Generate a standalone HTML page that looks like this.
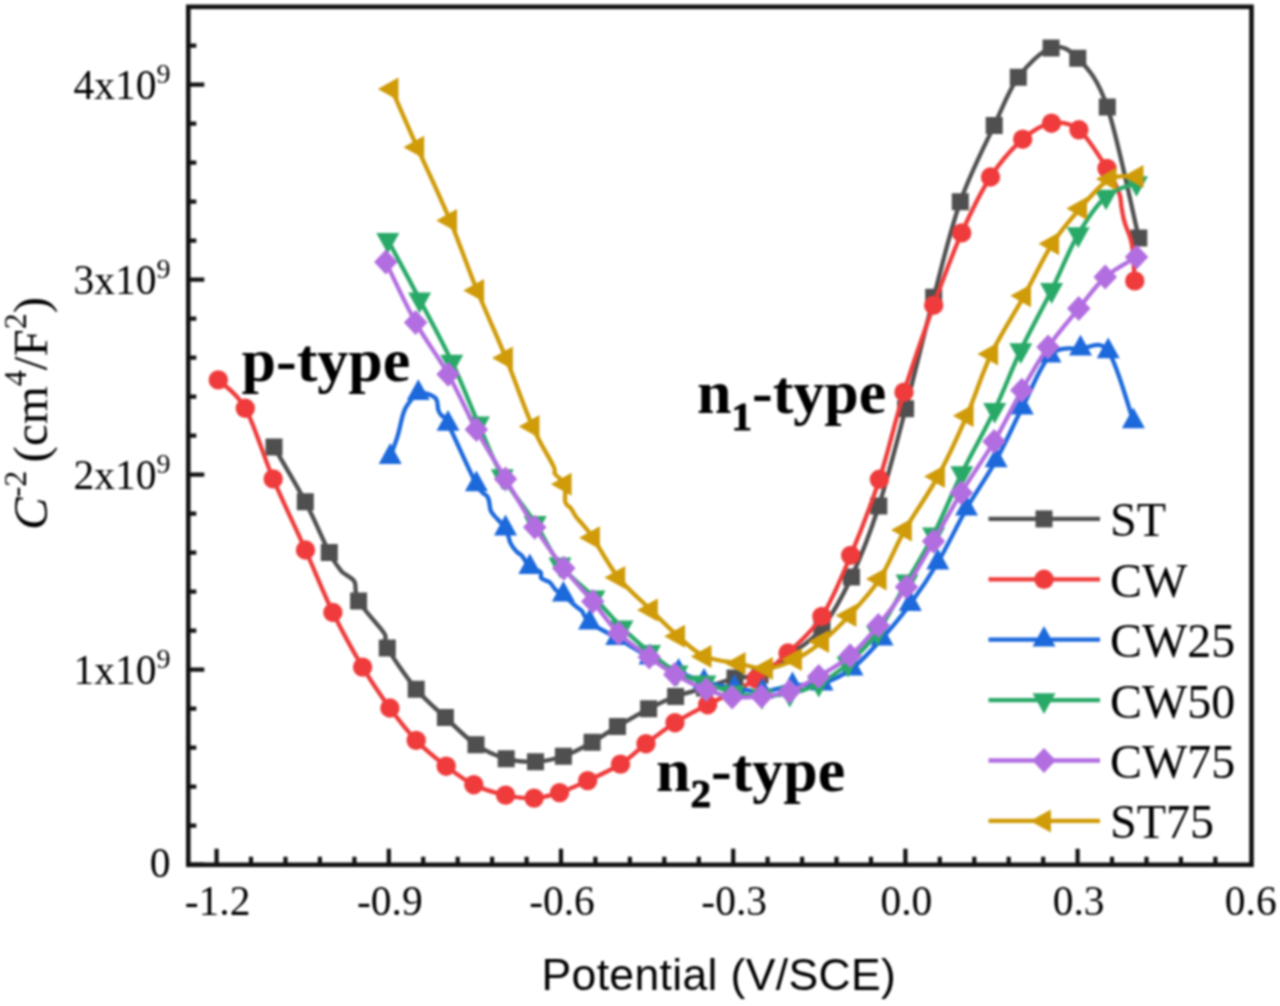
<!DOCTYPE html>
<html><head><meta charset="utf-8"><title>Mott-Schottky plot</title>
<style>
html,body{margin:0;padding:0;background:#fff;}
svg{display:block;}
.tl{font-family:"Liberation Serif",serif;font-size:41.5px;fill:#000;}
.sup{font-family:"Liberation Serif",serif;font-size:28px;fill:#000;}
.xt{font-family:"Liberation Sans",sans-serif;font-size:44.5px;letter-spacing:0.35px;fill:#000;}
.yt{font-family:"Liberation Serif",serif;font-size:49px;fill:#000;}
.ysup{font-size:32px;}
.an{font-family:"Liberation Serif",serif;font-weight:bold;font-size:62px;fill:#000;}
.ansub{font-size:41px;font-weight:bold;stroke:#000;stroke-width:0.9px;}
.lg{font-family:"Liberation Serif",serif;font-size:48px;fill:#000;}
</style></head>
<body>
<svg width="1280" height="1006" viewBox="0 0 1280 1006">
<defs><filter id="bl" x="0" y="0" width="1" height="1" color-interpolation-filters="sRGB"><feGaussianBlur stdDeviation="0.95"/></filter></defs>
<rect width="1280" height="1006" fill="#fff"/>
<g filter="url(#bl)"><rect width="1280" height="1006" fill="#fff"/>
<path d="M274,447 C279.2,456.1 296.1,484.1 305.3,501.7 C314.5,519.3 323.5,541.2 329.3,552.6 C335.1,564 337.9,566.3 340.3,569.8 C342.8,573.3 342.2,572 344,573.4 C345.8,574.8 349.2,576.6 351,578.2 C352.8,579.8 353.7,579.2 355,583 C356.3,586.8 354,593 358.6,601 C363.2,609 378,625 382.5,631 C387,637 384.7,634.2 385.5,637 C386.3,639.8 382.2,639.3 387.3,648 C392.4,656.7 406.5,677.6 416.2,689.2 C425.9,700.8 435.4,708.2 445.4,717.5 C455.4,726.8 465.9,737.9 476,744.8 C486.1,751.7 496.3,755.9 506.2,758.7 C516.1,761.5 526,762.1 535.5,761.7 C545,761.3 554,759.5 563.4,756.3 C572.8,753.1 583.1,747.3 592.1,742.3 C601.1,737.3 608.1,732 617.5,726.4 C626.9,720.8 638.9,713.8 648.6,708.8 C658.3,703.8 666.3,700 675.6,696.5 C684.9,693 694.6,691.1 704.5,688 C714.4,684.9 725.8,680.2 735,678 C744.2,675.8 750.8,678.8 760,675 C769.2,671.2 779.7,662.8 790,655 C800.3,647.2 811.8,641 822,628 C832.2,615 842,597.3 851.5,577 C861,556.7 869.8,534.1 878.8,506.1 C887.8,478.1 896.5,443.5 905.6,408.7 C914.8,373.9 924.6,331.8 933.7,297.3 C942.8,262.8 950.2,230.3 960.3,201.7 C970.4,173 984.5,146.1 994.2,125.4 C1003.9,104.7 1008.8,90.2 1018.3,77.3 C1027.8,64.4 1041.2,51.2 1051.1,48 C1061,44.8 1068.4,48.5 1077.8,58.3 C1087.2,68.1 1097.1,77.1 1107.3,107 C1117.5,136.9 1133.5,216.1 1138.8,237.9" fill="none" stroke="#4f4f4f" stroke-width="4.3" stroke-linejoin="round" stroke-linecap="round"/>
<path d="M265.5,438.5 h17 v17 h-17 Z M296.8,493.2 h17 v17 h-17 Z M320.8,544.1 h17 v17 h-17 Z M350.1,592.5 h17 v17 h-17 Z M378.8,639.5 h17 v17 h-17 Z M407.7,680.7 h17 v17 h-17 Z M436.9,709 h17 v17 h-17 Z M467.5,736.3 h17 v17 h-17 Z M497.7,750.2 h17 v17 h-17 Z M527,753.2 h17 v17 h-17 Z M554.9,747.8 h17 v17 h-17 Z M583.6,733.8 h17 v17 h-17 Z M609,717.9 h17 v17 h-17 Z M640.1,700.3 h17 v17 h-17 Z M667.1,688 h17 v17 h-17 Z M696,679.5 h17 v17 h-17 Z M726.5,669.5 h17 v17 h-17 Z M751.5,666.5 h17 v17 h-17 Z M781.5,646.5 h17 v17 h-17 Z M813.5,619.5 h17 v17 h-17 Z M843,568.5 h17 v17 h-17 Z M870.3,497.6 h17 v17 h-17 Z M897.1,400.2 h17 v17 h-17 Z M925.2,288.8 h17 v17 h-17 Z M951.8,193.2 h17 v17 h-17 Z M985.7,116.9 h17 v17 h-17 Z M1009.8,68.8 h17 v17 h-17 Z M1042.6,39.5 h17 v17 h-17 Z M1069.3,49.8 h17 v17 h-17 Z M1098.8,98.5 h17 v17 h-17 Z M1130.3,229.4 h17 v17 h-17 Z" fill="#4f4f4f"/>
<path d="M218.3,379.9 C222.8,384.6 236.2,391.8 245.3,408.3 C254.5,424.8 263.2,455.3 273.2,478.9 C283.2,502.5 295.6,527.7 305.5,550 C315.4,572.3 323.4,593 332.9,612.5 C342.4,632 353.1,651.2 362.6,667.1 C372.1,683 381,695.8 389.9,708 C398.8,720.2 406.8,730.7 416.2,740.4 C425.6,750.1 436.6,758.8 446.2,766.2 C455.8,773.6 463.9,779.9 473.8,784.7 C483.7,789.5 495.6,792.9 505.6,795.1 C515.6,797.3 525.1,798.5 534.1,798.1 C543.1,797.7 550.7,795.5 559.6,792.6 C568.5,789.7 577.6,785.4 587.7,780.6 C597.9,775.9 610.8,770.2 620.5,764.1 C630.2,758 636.9,750.6 646,743.7 C655.1,736.8 664.7,729.2 675,722.7 C685.3,716.2 697.9,709.8 707.6,704.7 C717.3,699.6 724.9,696.3 733,692 C741.1,687.7 746.8,685.5 756,679 C765.2,672.5 777,663.4 788,653 C799,642.6 811.4,632.7 821.9,616.4 C832.4,600.1 841.1,578.2 850.7,555.4 C860.3,532.5 870.5,506.5 879.4,479.3 C888.3,452.1 895,421.2 904,392.2 C913,363.2 924.1,331.8 933.7,305.2 C943.3,278.6 952.2,254.3 961.7,232.9 C971.2,211.5 980.3,192.6 990.5,177 C1000.7,161.4 1012.5,148.2 1022.7,139.2 C1032.9,130.2 1042.1,124.8 1051.5,123.2 C1060.9,121.6 1069.7,122.3 1078.9,129.8 C1088.2,137.3 1100.3,158 1107,168.4 C1113.7,178.8 1116.6,186.1 1119,192.5 C1121.4,198.9 1120.7,202.4 1121.5,207 C1122.3,211.6 1123.1,216.3 1124,220 C1124.9,223.7 1126,226.2 1127,229 C1128,231.8 1129.1,233.8 1130,237 C1130.9,240.2 1131.6,240.7 1132.4,248 C1133.2,255.3 1134.4,275.4 1134.8,280.9" fill="none" stroke="#ef3b3b" stroke-width="4.3" stroke-linejoin="round" stroke-linecap="round"/>
<path d="M208.6,379.9 a9.7,9.7 0 1,0 19.4,0 a9.7,9.7 0 1,0 -19.4,0 Z M235.6,408.3 a9.7,9.7 0 1,0 19.4,0 a9.7,9.7 0 1,0 -19.4,0 Z M263.5,478.9 a9.7,9.7 0 1,0 19.4,0 a9.7,9.7 0 1,0 -19.4,0 Z M295.8,550 a9.7,9.7 0 1,0 19.4,0 a9.7,9.7 0 1,0 -19.4,0 Z M323.2,612.5 a9.7,9.7 0 1,0 19.4,0 a9.7,9.7 0 1,0 -19.4,0 Z M352.9,667.1 a9.7,9.7 0 1,0 19.4,0 a9.7,9.7 0 1,0 -19.4,0 Z M380.2,708 a9.7,9.7 0 1,0 19.4,0 a9.7,9.7 0 1,0 -19.4,0 Z M406.5,740.4 a9.7,9.7 0 1,0 19.4,0 a9.7,9.7 0 1,0 -19.4,0 Z M436.5,766.2 a9.7,9.7 0 1,0 19.4,0 a9.7,9.7 0 1,0 -19.4,0 Z M464.1,784.7 a9.7,9.7 0 1,0 19.4,0 a9.7,9.7 0 1,0 -19.4,0 Z M495.9,795.1 a9.7,9.7 0 1,0 19.4,0 a9.7,9.7 0 1,0 -19.4,0 Z M524.4,798.1 a9.7,9.7 0 1,0 19.4,0 a9.7,9.7 0 1,0 -19.4,0 Z M549.9,792.6 a9.7,9.7 0 1,0 19.4,0 a9.7,9.7 0 1,0 -19.4,0 Z M578,780.6 a9.7,9.7 0 1,0 19.4,0 a9.7,9.7 0 1,0 -19.4,0 Z M610.8,764.1 a9.7,9.7 0 1,0 19.4,0 a9.7,9.7 0 1,0 -19.4,0 Z M636.3,743.7 a9.7,9.7 0 1,0 19.4,0 a9.7,9.7 0 1,0 -19.4,0 Z M665.3,722.7 a9.7,9.7 0 1,0 19.4,0 a9.7,9.7 0 1,0 -19.4,0 Z M697.9,704.7 a9.7,9.7 0 1,0 19.4,0 a9.7,9.7 0 1,0 -19.4,0 Z M723.3,692 a9.7,9.7 0 1,0 19.4,0 a9.7,9.7 0 1,0 -19.4,0 Z M746.3,679 a9.7,9.7 0 1,0 19.4,0 a9.7,9.7 0 1,0 -19.4,0 Z M778.3,653 a9.7,9.7 0 1,0 19.4,0 a9.7,9.7 0 1,0 -19.4,0 Z M812.2,616.4 a9.7,9.7 0 1,0 19.4,0 a9.7,9.7 0 1,0 -19.4,0 Z M841,555.4 a9.7,9.7 0 1,0 19.4,0 a9.7,9.7 0 1,0 -19.4,0 Z M869.7,479.3 a9.7,9.7 0 1,0 19.4,0 a9.7,9.7 0 1,0 -19.4,0 Z M894.3,392.2 a9.7,9.7 0 1,0 19.4,0 a9.7,9.7 0 1,0 -19.4,0 Z M924,305.2 a9.7,9.7 0 1,0 19.4,0 a9.7,9.7 0 1,0 -19.4,0 Z M952,232.9 a9.7,9.7 0 1,0 19.4,0 a9.7,9.7 0 1,0 -19.4,0 Z M980.8,177 a9.7,9.7 0 1,0 19.4,0 a9.7,9.7 0 1,0 -19.4,0 Z M1013,139.2 a9.7,9.7 0 1,0 19.4,0 a9.7,9.7 0 1,0 -19.4,0 Z M1041.8,123.2 a9.7,9.7 0 1,0 19.4,0 a9.7,9.7 0 1,0 -19.4,0 Z M1069.2,129.8 a9.7,9.7 0 1,0 19.4,0 a9.7,9.7 0 1,0 -19.4,0 Z M1097.3,168.4 a9.7,9.7 0 1,0 19.4,0 a9.7,9.7 0 1,0 -19.4,0 Z M1125.1,280.9 a9.7,9.7 0 1,0 19.4,0 a9.7,9.7 0 1,0 -19.4,0 Z" fill="#ef3b3b"/>
<path d="M390.2,456.9 C391.4,453.5 395.4,443.3 397.5,436.4 C399.6,429.5 401.1,420.8 402.7,415.6 C404.3,410.5 404.4,409.2 407,405.5 C409.6,401.8 414.5,394.9 418.3,393.1 C422.1,391.4 427,393.7 430,394.8 C433,395.9 435.1,397 436.5,399.5 C437.9,402 437.5,407.3 438.3,410 C439.1,412.7 439.9,413.2 441.5,415.5 C443.1,417.8 442.2,412.4 448,423.8 C453.8,435.3 469.8,472.1 476.4,484.3 C483,496.6 485.3,492.8 487.7,497.1 C490.1,501.4 489.4,506.9 490.5,510 C491.6,513.1 492,512.9 494.5,516 C497,519.1 502.8,523.9 505.5,528.5 C508.2,533 508.7,539.4 510.5,543.2 C512.3,547 514.5,549.3 516.5,551.5 C518.5,553.7 520.2,553.7 522.4,556.3 C524.6,558.9 526.8,564.6 529.8,567.2 C532.8,569.7 538.4,570 540.3,571.8 C542.2,573.6 540.2,576.4 541,577.8 C541.8,579.2 543.5,579.4 545,580.2 C546.5,581 548.2,580.9 550,582.5 C551.8,584.1 553.6,588 555.8,590 C558,592 560,592 563.4,594.8 C566.8,597.5 572.9,603.7 576,606.4 C579.1,609.1 579.7,608.5 582,611.2 C584.3,613.9 583.8,618 589.6,622.5 C595.4,626.9 606.7,632.1 616.8,638 C626.9,643.8 639.7,651.8 650,657.5 C660.3,663.1 669.6,667.9 678.6,672 C687.6,676 694.7,679 704,681.7 C713.3,684.3 724.8,686.3 734.5,688 C744.2,689.6 752.8,691.9 762.5,691.5 C772.2,691 782.6,686.8 792.5,685.5 C802.4,684.1 812.1,686.3 822,683.5 C831.9,680.6 842,676 852,668.5 C862,661 872.3,649.2 882,638.5 C891.7,627.7 901,616.6 910.3,604 C919.6,591.3 928.4,578.3 937.8,562.5 C947.2,546.6 956.8,525.8 966.5,508.8 C976.2,491.7 986.8,477.1 996.1,460.2 C1005.4,443.4 1013.3,425.1 1022.3,407.6 C1031.3,390.2 1040.3,365.3 1050,355.4 C1059.7,345.6 1070.8,349.2 1080.5,348.6 C1090.2,347.9 1099.4,339.2 1108.2,351.3 C1117,363.5 1129.2,409.7 1133.4,421.3" fill="none" stroke="#1c69dc" stroke-width="4.3" stroke-linejoin="round" stroke-linecap="round"/>
<path d="M390.2,443.1 L401.7,463.9 L378.7,463.9 Z M418.3,379.3 L429.8,400.1 L406.8,400.1 Z M448,410 L459.5,430.8 L436.5,430.8 Z M476.4,470.5 L487.9,491.2 L464.9,491.2 Z M505.5,514.6 L517,535.4 L494,535.4 Z M529.8,553.4 L541.3,574.1 L518.3,574.1 Z M563.4,580.9 L574.9,601.6 L551.9,601.6 Z M589.6,608.6 L601.1,629.4 L578.1,629.4 Z M616.8,624.1 L628.3,644.9 L605.3,644.9 Z M650,643.6 L661.5,664.4 L638.5,664.4 Z M678.6,658.1 L690.1,678.9 L667.1,678.9 Z M704,667.9 L715.5,688.6 L692.5,688.6 Z M734.5,674.1 L746,694.9 L723,694.9 Z M762.5,677.6 L774,698.4 L751,698.4 Z M792.5,671.6 L804,692.4 L781,692.4 Z M822,669.6 L833.5,690.4 L810.5,690.4 Z M852,654.6 L863.5,675.4 L840.5,675.4 Z M882,624.6 L893.5,645.4 L870.5,645.4 Z M910.3,590.1 L921.8,610.9 L898.8,610.9 Z M937.8,548.6 L949.3,569.4 L926.3,569.4 Z M966.5,494.9 L978,515.6 L955,515.6 Z M996.1,446.4 L1007.6,467.2 L984.6,467.2 Z M1022.3,393.8 L1033.8,414.6 L1010.8,414.6 Z M1050,341.6 L1061.5,362.4 L1038.5,362.4 Z M1080.5,334.8 L1092,355.5 L1069,355.5 Z M1108.2,337.5 L1119.7,358.2 L1096.7,358.2 Z M1133.4,407.5 L1144.9,428.2 L1121.9,428.2 Z" fill="#1c69dc"/>
<path d="M387.8,239.9 C393.1,249.8 408.9,279.1 419.6,299.4 C430.3,319.8 442,341 451.8,361.7 C461.6,382.3 470,404.5 478.4,423.6 C486.8,442.6 492.8,459.7 502.3,476.2 C511.8,492.8 525.6,508.3 535.2,523 C544.8,537.8 550.2,552.1 560,564.5 C569.8,577 583.7,587 594,597.5 C604.3,608 612.8,618.5 622,627.5 C631.2,636.6 640.3,644.5 649.5,652 C658.7,659.5 667.8,667.5 677,672.5 C686.2,677.6 695.6,679.2 705,682.5 C714.4,685.9 724,690.3 733.5,692.5 C743,694.8 752.6,695.8 762,695.9 C771.4,696.1 780.3,695.6 789.8,693.5 C799.2,691.5 809,688.8 818.7,683.8 C828.4,678.8 838.2,672.1 848,663.5 C857.8,654.9 867.7,645.9 877.5,632.2 C887.3,618.6 897.6,597.8 907,581.5 C916.4,565.3 924.5,552.6 933.6,534.5 C942.7,516.5 951.6,494 961.8,473.2 C972,452.5 984.9,430.4 994.7,409.9 C1004.5,389.3 1011.3,370.1 1020.8,350.2 C1030.3,330.2 1042,309.4 1051.6,290.1 C1061.2,270.7 1069.1,249.8 1078.2,234.2 C1087.3,218.7 1096.3,205.1 1106,196.6 C1115.7,188 1131.4,185.3 1136.5,183.1" fill="none" stroke="#29a968" stroke-width="4.3" stroke-linejoin="round" stroke-linecap="round"/>
<path d="M376.3,233 L399.3,233 L387.8,253.7 Z M408.1,292.5 L431.1,292.5 L419.6,313.2 Z M440.3,354.8 L463.3,354.8 L451.8,375.5 Z M466.9,416.6 L489.9,416.6 L478.4,437.4 Z M490.8,469.3 L513.8,469.3 L502.3,490.1 Z M523.7,516.1 L546.7,516.1 L535.2,536.9 Z M548.5,557.6 L571.5,557.6 L560,578.4 Z M582.5,590.6 L605.5,590.6 L594,611.4 Z M610.5,620.6 L633.5,620.6 L622,641.4 Z M638,645.1 L661,645.1 L649.5,665.9 Z M665.5,665.6 L688.5,665.6 L677,686.4 Z M693.5,675.6 L716.5,675.6 L705,696.4 Z M722,685.6 L745,685.6 L733.5,706.4 Z M750.5,689 L773.5,689 L762,709.8 Z M778.3,686.6 L801.3,686.6 L789.8,707.4 Z M807.2,676.9 L830.2,676.9 L818.7,697.6 Z M836.5,656.6 L859.5,656.6 L848,677.4 Z M866,625.4 L889,625.4 L877.5,646.1 Z M895.5,574.6 L918.5,574.6 L907,595.4 Z M922.1,527.6 L945.1,527.6 L933.6,548.4 Z M950.3,466.3 L973.3,466.3 L961.8,487.1 Z M983.2,402.9 L1006.2,402.9 L994.7,423.7 Z M1009.3,343.2 L1032.3,343.2 L1020.8,364 Z M1040.1,283.1 L1063.1,283.1 L1051.6,303.9 Z M1066.7,227.3 L1089.7,227.3 L1078.2,248 Z M1094.5,189.7 L1117.5,189.7 L1106,210.3 Z M1125,176.2 L1148,176.2 L1136.5,196.8 Z" fill="#29a968"/>
<path d="M385.8,262.1 C390.8,272.2 405.2,303.7 415.6,322.4 C426,341.1 438.1,356.3 448.2,374.2 C458.3,392.1 466.8,412.2 476.4,429.6 C485.9,447.1 495.8,462.6 505.5,478.9 C515.2,495.2 525,512.3 534.7,527.2 C544.4,542.1 554.1,555.9 563.8,568.3 C573.5,580.7 583.6,590.7 592.7,601.5 C601.8,612.3 609.2,624 618.6,633.3 C628,642.5 639.9,650.1 649.3,657 C658.7,663.9 665.3,669.2 674.8,674.6 C684.3,680 696.6,685.9 706.2,689.6 C715.8,693.3 723,695.9 732.2,697 C741.4,698.1 752,697.2 761.5,696.3 C771,695.4 780,694.8 789.5,691.5 C799,688.2 808.6,682.4 818.7,676.4 C828.8,670.4 840.2,664.3 850.1,655.8 C860,647.3 869,636.9 878.4,625.4 C887.8,613.9 897.3,601 906.5,587 C915.7,573 924.4,557 933.5,541.3 C942.6,525.6 951.2,509.3 961.3,492.7 C971.4,476.1 984,458.6 994.1,441.5 C1004.2,424.4 1012.9,406 1021.9,390.2 C1030.9,374.4 1038.6,360.5 1048.1,346.9 C1057.6,333.3 1069.2,320.1 1078.7,308.5 C1088.2,296.9 1095.6,285.7 1105.2,277.1 C1114.8,268.5 1131.4,260.4 1136.6,257.1" fill="none" stroke="#b26ee0" stroke-width="4.3" stroke-linejoin="round" stroke-linecap="round"/>
<path d="M385.8,249.6 L397.6,262.1 L385.8,274.6 L374.1,262.1 Z M415.6,309.9 L427.4,322.4 L415.6,334.9 L403.9,322.4 Z M448.2,361.7 L459.9,374.2 L448.2,386.7 L436.4,374.2 Z M476.4,417.1 L488.1,429.6 L476.4,442.1 L464.6,429.6 Z M505.5,466.4 L517.2,478.9 L505.5,491.4 L493.8,478.9 Z M534.7,514.7 L546.5,527.2 L534.7,539.7 L523,527.2 Z M563.8,555.8 L575.5,568.3 L563.8,580.8 L552,568.3 Z M592.7,589 L604.5,601.5 L592.7,614 L581,601.5 Z M618.6,620.8 L630.4,633.3 L618.6,645.8 L606.9,633.3 Z M649.3,644.5 L661,657 L649.3,669.5 L637.5,657 Z M674.8,662.1 L686.5,674.6 L674.8,687.1 L663,674.6 Z M706.2,677.1 L718,689.6 L706.2,702.1 L694.5,689.6 Z M732.2,684.5 L744,697 L732.2,709.5 L720.5,697 Z M761.5,683.8 L773.2,696.3 L761.5,708.8 L749.8,696.3 Z M789.5,679 L801.2,691.5 L789.5,704 L777.8,691.5 Z M818.7,663.9 L830.5,676.4 L818.7,688.9 L807,676.4 Z M850.1,643.3 L861.9,655.8 L850.1,668.3 L838.4,655.8 Z M878.4,612.9 L890.1,625.4 L878.4,637.9 L866.6,625.4 Z M906.5,574.5 L918.2,587 L906.5,599.5 L894.8,587 Z M933.5,528.8 L945.2,541.3 L933.5,553.8 L921.8,541.3 Z M961.3,480.2 L973,492.7 L961.3,505.2 L949.5,492.7 Z M994.1,429 L1005.9,441.5 L994.1,454 L982.4,441.5 Z M1021.9,377.7 L1033.7,390.2 L1021.9,402.7 L1010.1,390.2 Z M1048.1,334.4 L1059.8,346.9 L1048.1,359.4 L1036.3,346.9 Z M1078.7,296 L1090.5,308.5 L1078.7,321 L1067,308.5 Z M1105.2,264.6 L1117,277.1 L1105.2,289.6 L1093.5,277.1 Z M1136.6,244.6 L1148.3,257.1 L1136.6,269.6 L1124.8,257.1 Z" fill="#b26ee0"/>
<path d="M391.6,89.1 C395.8,98.8 407.5,125.4 417.2,147.3 C427,169.2 440.1,196.7 450.1,220.6 C460,244.5 467.8,267.6 477.1,290.5 C486.5,313.4 496.7,335.3 505.9,358 C515.2,380.7 524.7,408.7 532.6,426.6 C540.4,444.6 549.5,457.8 553.2,465.7 C556.9,473.6 553.1,470.9 555,474 C556.9,477.1 562.9,479.5 564.7,484.2 C566.4,488.9 564.2,497.9 565.3,502 C566.4,506.1 569.1,505.9 571,508.5 C572.9,511.1 574.4,514.7 576.5,517.5 C578.6,520.3 580.8,522.1 583.5,525.5 C586.2,528.9 587.1,529.1 593,537.8 C598.8,546.5 608.7,565.6 618.4,577.6 C628,589.6 640.9,600.2 650.9,610 C660.8,619.8 669.1,628.5 678.1,636.2 C687,643.9 694.5,651.9 704.6,656.4 C714.7,660.9 728.4,661.5 738.7,663.5 C748.9,665.5 756.6,669 766,668.4 C775.3,667.8 785.6,664.1 795,659.6 C804.3,655.1 813,649 822.1,641.6 C831.1,634.2 839.8,625.9 849.5,615.4 C859.1,604.9 870.5,593.1 879.8,578.9 C889,564.6 895.1,547 904.9,529.9 C914.6,512.8 927.6,495.4 938,476.4 C948.3,457.4 957.9,436.1 966.8,415.7 C975.6,395.3 981.7,374 991.2,354 C1000.8,334 1014,314.2 1024.2,295.8 C1034.3,277.4 1042.9,258.4 1052.2,243.8 C1061.6,229.2 1070.6,219.2 1080.2,208.4 C1089.7,197.6 1100.2,184.3 1109.7,179 C1119.1,173.7 1132.2,177 1136.7,176.6" fill="none" stroke="#cf9b08" stroke-width="4.3" stroke-linejoin="round" stroke-linecap="round"/>
<path d="M377.8,89.1 L398.5,77.6 L398.5,100.6 Z M403.4,147.3 L424.2,135.8 L424.2,158.8 Z M436.2,220.6 L457,209.1 L457,232.1 Z M463.3,290.5 L484.1,279 L484.1,302 Z M492.1,358 L512.9,346.5 L512.9,369.5 Z M518.8,426.6 L539.5,415.1 L539.5,438.1 Z M550.9,484.2 L571.6,472.7 L571.6,495.7 Z M579.1,537.8 L599.9,526.3 L599.9,549.3 Z M604.5,577.6 L625.2,566.1 L625.2,589.1 Z M637,610 L657.8,598.5 L657.8,621.5 Z M664.2,636.2 L685,624.7 L685,647.7 Z M690.8,656.4 L711.5,644.9 L711.5,667.9 Z M724.9,663.5 L745.6,652 L745.6,675 Z M752.1,668.4 L772.9,656.9 L772.9,679.9 Z M781.1,659.6 L801.9,648.1 L801.9,671.1 Z M808.2,641.6 L829,630.1 L829,653.1 Z M835.6,615.4 L856.4,603.9 L856.4,626.9 Z M865.9,578.9 L886.6,567.4 L886.6,590.4 Z M891,529.9 L911.8,518.4 L911.8,541.4 Z M924.1,476.4 L944.9,464.9 L944.9,487.9 Z M952.9,415.7 L973.6,404.2 L973.6,427.2 Z M977.4,354 L998.1,342.5 L998.1,365.5 Z M1010.4,295.8 L1031,284.3 L1031,307.3 Z M1038.5,243.8 L1059.1,232.3 L1059.1,255.3 Z M1066.4,208.4 L1087,196.9 L1087,219.9 Z M1095.9,179 L1116.5,167.5 L1116.5,190.5 Z M1122.9,176.6 L1143.5,165.1 L1143.5,188.1 Z" fill="#cf9b08"/>
<text x="241.5" y="381" class="an">p-type</text>
<text x="697" y="413" class="an">n<tspan class="ansub" dy="16.5">1</tspan><tspan dy="-16.5">-type</tspan></text>
<text x="656" y="791" class="an">n<tspan class="ansub" dy="16">2</tspan><tspan dy="-16">-type</tspan></text>
<path d="M988.5,518.9 H1100" stroke="#4f4f4f" stroke-width="4.3"/>
<path d="M1035.5,510.4 h17 v17 h-17 Z" fill="#4f4f4f"/>
<text x="1110" y="536.4" class="lg">ST</text>
<path d="M988.5,579.3 H1100" stroke="#ef3b3b" stroke-width="4.3"/>
<path d="M1034.3,579.3 a9.7,9.7 0 1,0 19.4,0 a9.7,9.7 0 1,0 -19.4,0 Z" fill="#ef3b3b"/>
<text x="1110" y="596.8" class="lg">CW</text>
<path d="M988.5,639.7 H1100" stroke="#1c69dc" stroke-width="4.3"/>
<path d="M1044,625.9 L1055.5,646.6 L1032.5,646.6 Z" fill="#1c69dc"/>
<text x="1110" y="657.2" class="lg">CW25</text>
<path d="M988.5,700.1 H1100" stroke="#29a968" stroke-width="4.3"/>
<path d="M1032.5,693.2 L1055.5,693.2 L1044,713.9 Z" fill="#29a968"/>
<text x="1110" y="717.6" class="lg">CW50</text>
<path d="M988.5,760.5 H1100" stroke="#b26ee0" stroke-width="4.3"/>
<path d="M1044,748 L1055.8,760.5 L1044,773 L1032.2,760.5 Z" fill="#b26ee0"/>
<text x="1110" y="778" class="lg">CW75</text>
<path d="M988.5,820.9 H1100" stroke="#cf9b08" stroke-width="4.3"/>
<path d="M1030.2,820.9 L1050.9,809.4 L1050.9,832.4 Z" fill="#cf9b08"/>
<text x="1110" y="838.4" class="lg">ST75</text>
<rect x="188.3" y="6.8" width="1063.2" height="858" fill="none" stroke="#111" stroke-width="4.6"/>
<path d="M216.6,864.8 v-16 M251,864.8 v-8 M285.5,864.8 v-8 M319.9,864.8 v-8 M354.4,864.8 v-8 M388.8,864.8 v-16 M423.2,864.8 v-8 M457.7,864.8 v-8 M492.1,864.8 v-8 M526.6,864.8 v-8 M561,864.8 v-16 M595.4,864.8 v-8 M629.9,864.8 v-8 M664.3,864.8 v-8 M698.8,864.8 v-8 M733.2,864.8 v-16 M767.6,864.8 v-8 M802.1,864.8 v-8 M836.5,864.8 v-8 M871,864.8 v-8 M905.4,864.8 v-16 M939.8,864.8 v-8 M974.3,864.8 v-8 M1008.7,864.8 v-8 M1043.2,864.8 v-8 M1077.6,864.8 v-16 M1112,864.8 v-8 M1146.5,864.8 v-8 M1180.9,864.8 v-8 M1215.4,864.8 v-8 M188.3,864.6 h16 M188.3,825.6 h8 M188.3,786.6 h8 M188.3,747.6 h8 M188.3,708.6 h8 M188.3,669.6 h16 M188.3,630.6 h8 M188.3,591.6 h8 M188.3,552.6 h8 M188.3,513.6 h8 M188.3,474.6 h16 M188.3,435.6 h8 M188.3,396.6 h8 M188.3,357.6 h8 M188.3,318.6 h8 M188.3,279.6 h16 M188.3,240.6 h8 M188.3,201.6 h8 M188.3,162.6 h8 M188.3,123.6 h8 M188.3,84.6 h16 M188.3,45.6 h8 " stroke="#111" stroke-width="4.2" fill="none"/>
<text x="217.6" y="915.3" text-anchor="middle" class="tl">-1.2</text>
<text x="389.8" y="915.3" text-anchor="middle" class="tl">-0.9</text>
<text x="562" y="915.3" text-anchor="middle" class="tl">-0.6</text>
<text x="734.2" y="915.3" text-anchor="middle" class="tl">-0.3</text>
<text x="906.4" y="915.3" text-anchor="middle" class="tl">0.0</text>
<text x="1078.6" y="915.3" text-anchor="middle" class="tl">0.3</text>
<text x="1250.8" y="915.3" text-anchor="middle" class="tl">0.6</text>
<text x="170.5" y="877.3" text-anchor="end" class="tl">0</text>
<text x="156.5" y="684.1" text-anchor="end" class="tl">1x10</text><text x="156.5" y="668.1" class="sup">9</text>
<text x="156.5" y="489.1" text-anchor="end" class="tl">2x10</text><text x="156.5" y="473.1" class="sup">9</text>
<text x="156.5" y="294.1" text-anchor="end" class="tl">3x10</text><text x="156.5" y="278.1" class="sup">9</text>
<text x="156.5" y="99.1" text-anchor="end" class="tl">4x10</text><text x="156.5" y="83.1" class="sup">9</text>
<text x="541.5" y="989.5" class="xt">Potential (V/SCE)</text>
<text transform="translate(47,530) rotate(-90)" class="yt"><tspan font-style="italic">C</tspan><tspan class="ysup" dy="-21">-2</tspan><tspan dy="21" dx="-4"> (cm</tspan><tspan class="ysup" dy="-21">4</tspan><tspan dy="21">/F</tspan><tspan class="ysup" dy="-21">2</tspan><tspan dy="21">)</tspan></text>
</g></svg>
</body></html>
